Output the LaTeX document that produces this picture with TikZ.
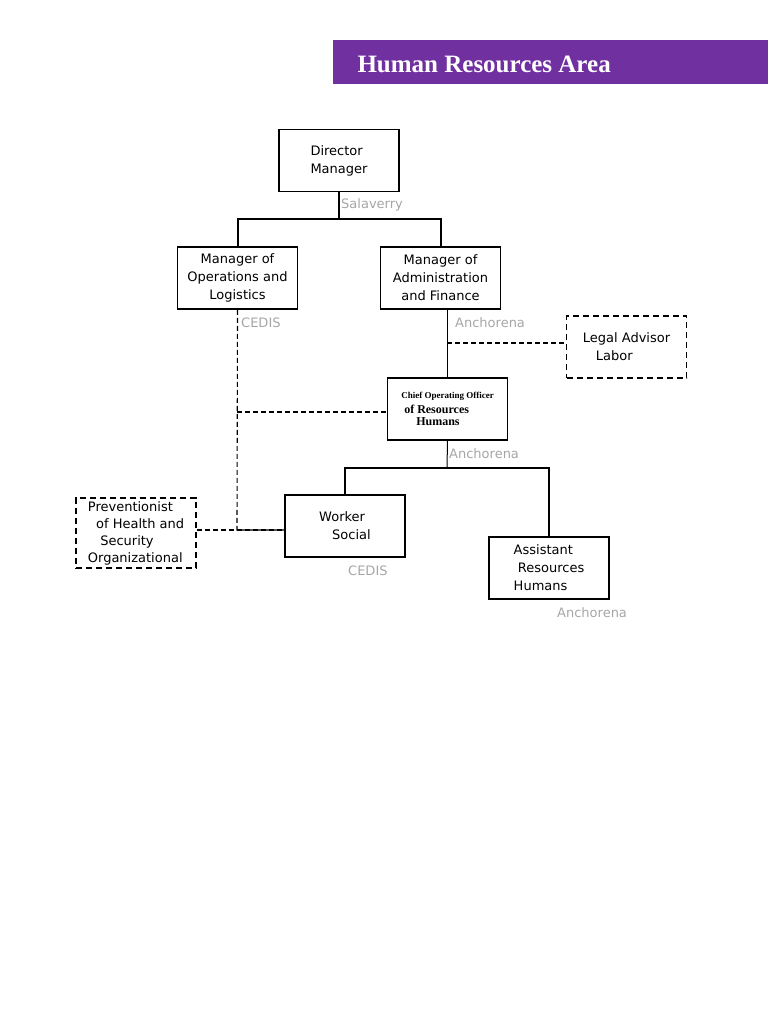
\documentclass[tikz,border=0pt]{standalone}
\usepackage{fontspec}
\setmainfont{DejaVu Sans}
\newfontfamily\titlefont{Liberation Serif}
\definecolor{banner}{HTML}{7030A0}
\begin{document}
\begin{tikzpicture}[x=1pt,y=-1pt,
    post/.style={draw,line width=1.5pt,minimum width=120pt,minimum height=62pt,align=left,font=\fontsize{13}{18}\selectfont},
    extpost/.style={post,dash pattern=on 6pt off 4pt},
    place/.style={text=gray!70,font=\fontsize{13}{15}\selectfont,anchor=west,inner sep=0pt},
    link/.style={line width=2pt},
    dlink/.style={dash pattern=on 5pt off 3pt,line width=1.1pt}]
    \useasboundingbox (0,0) rectangle (768,1024);
    \fill[banner] (333,40) rectangle (768,84);
    \node[anchor=west,text=white,font=\titlefont\bfseries\fontsize{25}{27}\selectfont] (title) at (354,64) {Human Resources Area};

    \node[post] (dir) at (339,160.5) {Director\\Manager};
    \node[post,align=center] (ops) at (237.5,278) {Manager of\\Operations and\\Logistics};
    \node[post,align=center] (adm) at (440.5,278) {Manager of\\Administration\\ and Finance};
    \node[extpost] (legal) at (626.5,347) {Legal Advisor\\ \quad Labor};
    \node[post,align=left,font=\titlefont\bfseries] (coo) at (447.5,409) {{\fontsize{9}{11}\selectfont Chief Operating Officer}\\[3pt] {\fontsize{12}{15}\selectfont\ of Resources}\\ {\fontsize{12}{15}\selectfont\quad\ Humans}};
    \node[post] (soc) at (345,526) {Worker\\ \quad Social};
    \node[post] (asst) at (549,568) {Assistant\\ \ Resources\\ Humans};
    \node[extpost,font=\fontsize{13}{17}\selectfont] (prev) at (136,533) {Preventionist\\ \ \ of Health and\\ \ \ \ Security\\ Organizational};

    \node[place] (p1) at (341,205) {Salaverry};
    \node[place] (p2) at (241,323) {CEDIS};
    \node[place] (p3) at (455,323) {Anchorena};
    \node[place] (p4) at (449,454) {Anchorena};
    \node[place] (p5) at (348,571) {CEDIS};
    \node[place] (p6) at (557,613) {Anchorena};

    \coordinate (j1) at (339,219);
    \coordinate (j2) at (447,468);
    \coordinate (k1) at (237,530);
    \coordinate (k2) at (447,343);
    \coordinate (k3) at (237,412);

    \draw[link] (dir.south) -- (j1) -| (ops.north);
    \draw[link] (j1) -| (adm.north);
    \draw[line width=1pt] (adm.south -| coo.north) -- (coo.north);
    \draw[line width=1pt] (coo.south) -- (j2);
    \draw[link] (j2) -| (soc.north);
    \draw[link] (j2) -| (asst.north);
    \draw[dlink] (ops.south) -- (k1) -- (k1 -| soc.west);
    \draw[dlink] (k3) -- (k3 -| coo.west);
    \draw[dlink] (k2) -- (k2 -| legal.west);
    \draw[dlink,line width=2pt] (k1 -| prev.east) -- (k1 -| soc.west);
\end{tikzpicture}
\end{document}
